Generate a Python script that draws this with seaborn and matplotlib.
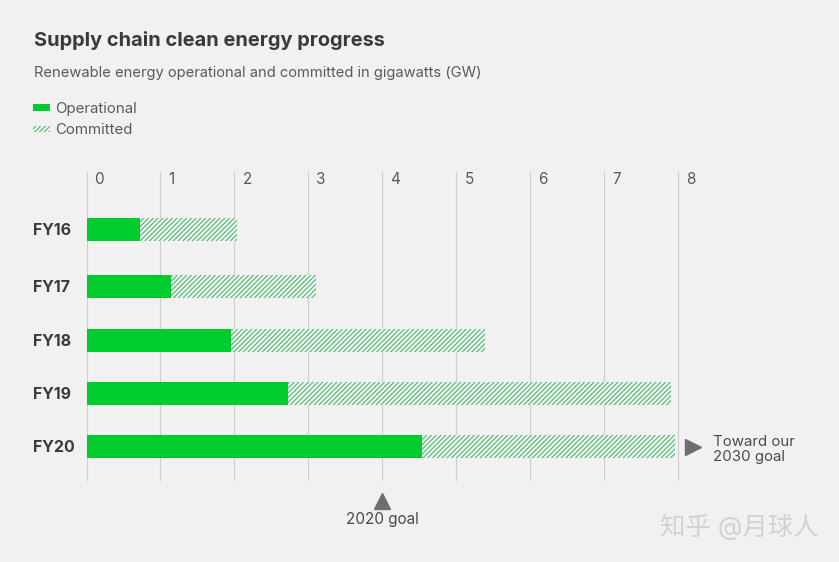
import matplotlib.pyplot as plt
from matplotlib.transforms import ScaledTranslation
import pandas as pd
import seaborn as sns


def clean_energy_chart(df):
    """
    Draws the operational and committed gigawatts per fiscal year.
    Parameters:
        df (pd.DataFrame): Table with year, row, operational and committed columns.
    """
    bg = '#f1f1f1'
    plt.rcParams['font.family'] = ['Inter', 'Noto Sans CJK SC', 'DejaVu Sans']
    plt.rcParams['hatch.linewidth'] = 0.7

    fig = plt.figure(figsize=(8.39, 5.62), dpi=100, facecolor=bg)
    ax = plt.axes([86.5 / 839, 1 - 480 / 562, (678.3 - 86.5) / 839, 308 / 562], facecolor=bg)

    # Committed goes first so that operational sits on top of it
    sns.barplot(data=df, x='committed', y='row', orient='y', native_scale=True, width=23 / 53,
                color=bg, saturation=1, edgecolor='#35b65c', linewidth=0, hatch='/' * 7, label='Committed')
    sns.barplot(data=df, x='operational', y='row', orient='y', native_scale=True, width=23 / 53,
                color='#00cc2e', saturation=1, linewidth=0, label='Operational')

    plt.xlim(0, 8)
    plt.ylim(480, 172)
    plt.xlabel('')
    plt.ylabel('')
    plt.xticks(range(9))
    plt.yticks(df['row'], df['year'], fontweight='bold', fontsize=11.5, color='#3a3a3a', ha='left')
    plt.grid(axis='x', color='#cdcdcd', linewidth=0.8, clip_on=False)
    ax.set_axisbelow(True)
    sns.despine(left=True, bottom=True)
    plt.tick_params(axis='y', length=0, pad=38.5)
    plt.tick_params(axis='x', length=0, top=False, bottom=False, labeltop=True, labelbottom=False,
                    pad=-10.5, labelsize=11, labelcolor='#5a5a5a')

    # Numbers sit just right of their gridline
    for label in ax.get_xticklabels():
        label.set_ha('left')
        label.set_transform(label.get_transform() + ScaledTranslation(8 / 100, 0, fig.dpi_scale_trans))

    # Goal markers
    plt.plot([4], [500.5], marker='^', markersize=12, color='#6e6e6e', clip_on=False, linestyle='')
    plt.plot([8.2], [447], marker='>', markersize=11.5, color='#6e6e6e', clip_on=False, linestyle='')
    plt.text(4, 519.5, '2020 goal', ha='center', va='center', fontsize=11, color='#4a4a4a')
    plt.text(8.47, 449.5, 'Toward our\n2030 goal', ha='left', va='center', fontsize=10.8, color='#4a4a4a',
             linespacing=1.15)

    fig.text(34 / 839, 1 - 40.5 / 562, 'Supply chain clean energy progress', fontsize=14.4, fontweight='bold',
             color='#3a3a3a', va='center')
    fig.text(34 / 839, 1 - 73.5 / 562, 'Renewable energy operational and committed in gigawatts (GW)',
             fontsize=10.6, color='#5a5a5a', va='center')
    fig.text(660 / 839, 1 - 527 / 562, '知乎 @月球人', fontsize=18.3, color='#d2d2d2', va='center')

    handles, labels = ax.get_legend_handles_labels()
    plt.legend(handles[::-1], labels[::-1], loc='upper left', bbox_to_anchor=(33 / 839, 1 - 102 / 562),
               bbox_transform=fig.transFigure, frameon=False, fontsize=10.8, labelcolor='#5a5a5a',
               handlelength=1.15, handleheight=0.3, handletextpad=0.35, labelspacing=0.5,
               borderpad=0, borderaxespad=0)

    plt.savefig('out.png', dpi=100, facecolor=bg)


df = pd.DataFrame({
    'year': ['FY16', 'FY17', 'FY18', 'FY19', 'FY20'],
    'row': [229, 286.5, 340, 393, 446],
    'operational': [0.72, 1.14, 1.95, 2.72, 4.53],
    'committed': [2.04, 3.10, 5.39, 7.90, 7.95],
})

clean_energy_chart(df)
